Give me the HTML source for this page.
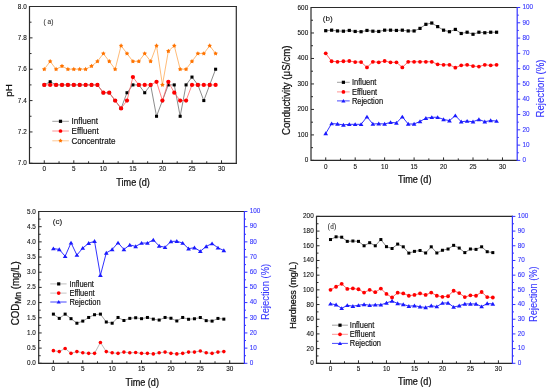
<!DOCTYPE html><html><head><meta charset="utf-8"><title>Figure</title><style>html,body{margin:0;padding:0;background:#fff;}svg{display:block;filter:blur(0.3px);}</style></head><body>
<svg width="550" height="390" viewBox="0 0 550 390">
<rect width="550" height="390" fill="#fff"/>
<path d="M29.5 6.5H236.3M29.5 6.5V163.3H236.3" stroke="#2b2b2b" stroke-width="1.2" fill="none" stroke-linecap="square"/>
<path d="M236.3 6.5V163.3" stroke="#2b2b2b" stroke-width="1.2" fill="none" stroke-linecap="square"/>
<path d="M44.27 163.3v-3" stroke="#2b2b2b" stroke-width="1"/>
<text transform="translate(44.27 171.4) scale(0.84 1)" font-size="7.6" text-anchor="middle" fill="#111" stroke="#111" stroke-width="0.12" font-family='"Liberation Sans", sans-serif' >0</text>
<path d="M73.81 163.3v-3" stroke="#2b2b2b" stroke-width="1"/>
<text transform="translate(73.81 171.4) scale(0.84 1)" font-size="7.6" text-anchor="middle" fill="#111" stroke="#111" stroke-width="0.12" font-family='"Liberation Sans", sans-serif' >5</text>
<path d="M103.36 163.3v-3" stroke="#2b2b2b" stroke-width="1"/>
<text transform="translate(103.36 171.4) scale(0.84 1)" font-size="7.6" text-anchor="middle" fill="#111" stroke="#111" stroke-width="0.12" font-family='"Liberation Sans", sans-serif' >10</text>
<path d="M132.9 163.3v-3" stroke="#2b2b2b" stroke-width="1"/>
<text transform="translate(132.9 171.4) scale(0.84 1)" font-size="7.6" text-anchor="middle" fill="#111" stroke="#111" stroke-width="0.12" font-family='"Liberation Sans", sans-serif' >15</text>
<path d="M162.44 163.3v-3" stroke="#2b2b2b" stroke-width="1"/>
<text transform="translate(162.44 171.4) scale(0.84 1)" font-size="7.6" text-anchor="middle" fill="#111" stroke="#111" stroke-width="0.12" font-family='"Liberation Sans", sans-serif' >20</text>
<path d="M191.99 163.3v-3" stroke="#2b2b2b" stroke-width="1"/>
<text transform="translate(191.99 171.4) scale(0.84 1)" font-size="7.6" text-anchor="middle" fill="#111" stroke="#111" stroke-width="0.12" font-family='"Liberation Sans", sans-serif' >25</text>
<path d="M221.53 163.3v-3" stroke="#2b2b2b" stroke-width="1"/>
<text transform="translate(221.53 171.4) scale(0.84 1)" font-size="7.6" text-anchor="middle" fill="#111" stroke="#111" stroke-width="0.12" font-family='"Liberation Sans", sans-serif' >30</text>
<path d="M59.04 163.3v-2" stroke="#2b2b2b" stroke-width="1"/>
<path d="M88.59 163.3v-2" stroke="#2b2b2b" stroke-width="1"/>
<path d="M118.13 163.3v-2" stroke="#2b2b2b" stroke-width="1"/>
<path d="M147.67 163.3v-2" stroke="#2b2b2b" stroke-width="1"/>
<path d="M177.21 163.3v-2" stroke="#2b2b2b" stroke-width="1"/>
<path d="M206.76 163.3v-2" stroke="#2b2b2b" stroke-width="1"/>
<path d="M29.5 163.3h3" stroke="#2b2b2b" stroke-width="1"/>
<text transform="translate(26.7 165.3) scale(0.84 1)" font-size="7.6" text-anchor="end" fill="#111" stroke="#111" stroke-width="0.12" font-family='"Liberation Sans", sans-serif' >7.0</text>
<path d="M29.5 131.94h3" stroke="#2b2b2b" stroke-width="1"/>
<text transform="translate(26.7 133.94) scale(0.84 1)" font-size="7.6" text-anchor="end" fill="#111" stroke="#111" stroke-width="0.12" font-family='"Liberation Sans", sans-serif' >7.2</text>
<path d="M29.5 100.58h3" stroke="#2b2b2b" stroke-width="1"/>
<text transform="translate(26.7 102.58) scale(0.84 1)" font-size="7.6" text-anchor="end" fill="#111" stroke="#111" stroke-width="0.12" font-family='"Liberation Sans", sans-serif' >7.4</text>
<path d="M29.5 69.22h3" stroke="#2b2b2b" stroke-width="1"/>
<text transform="translate(26.7 71.22) scale(0.84 1)" font-size="7.6" text-anchor="end" fill="#111" stroke="#111" stroke-width="0.12" font-family='"Liberation Sans", sans-serif' >7.6</text>
<path d="M29.5 37.86h3" stroke="#2b2b2b" stroke-width="1"/>
<text transform="translate(26.7 39.86) scale(0.84 1)" font-size="7.6" text-anchor="end" fill="#111" stroke="#111" stroke-width="0.12" font-family='"Liberation Sans", sans-serif' >7.8</text>
<path d="M29.5 6.5h3" stroke="#2b2b2b" stroke-width="1"/>
<text transform="translate(26.7 8.5) scale(0.84 1)" font-size="7.6" text-anchor="end" fill="#111" stroke="#111" stroke-width="0.12" font-family='"Liberation Sans", sans-serif' >8.0</text>
<path d="M29.5 147.62h2" stroke="#2b2b2b" stroke-width="1"/>
<path d="M29.5 116.26h2" stroke="#2b2b2b" stroke-width="1"/>
<path d="M29.5 84.9h2" stroke="#2b2b2b" stroke-width="1"/>
<path d="M29.5 53.54h2" stroke="#2b2b2b" stroke-width="1"/>
<path d="M29.5 22.18h2" stroke="#2b2b2b" stroke-width="1"/>
<path d="M44.27 84.9L50.18 81.76L56.09 84.9L62 84.9L67.91 84.9L73.81 84.9L79.72 84.9L85.63 84.9L91.54 84.9L97.45 84.9L103.36 92.74L109.27 92.74L115.17 100.58L121.08 108.42L126.99 92.74L132.9 84.9L138.81 84.9L144.72 92.74L150.63 84.9L156.53 116.26L162.44 100.58L168.35 84.9L174.26 84.9L180.17 116.26L186.08 84.9L191.99 77.06L197.89 84.9L203.8 100.58L209.71 84.9L215.62 69.22" stroke="#666" stroke-width="0.75" fill="none" opacity="1.0"/>
<rect x="42.75" y="83.38" width="3.05" height="3.05" fill="#000"/>
<rect x="48.66" y="80.24" width="3.05" height="3.05" fill="#000"/>
<rect x="54.56" y="83.38" width="3.05" height="3.05" fill="#000"/>
<rect x="60.47" y="83.38" width="3.05" height="3.05" fill="#000"/>
<rect x="66.38" y="83.38" width="3.05" height="3.05" fill="#000"/>
<rect x="72.29" y="83.38" width="3.05" height="3.05" fill="#000"/>
<rect x="78.2" y="83.38" width="3.05" height="3.05" fill="#000"/>
<rect x="84.11" y="83.38" width="3.05" height="3.05" fill="#000"/>
<rect x="90.01" y="83.38" width="3.05" height="3.05" fill="#000"/>
<rect x="95.92" y="83.38" width="3.05" height="3.05" fill="#000"/>
<rect x="101.83" y="91.21" width="3.05" height="3.05" fill="#000"/>
<rect x="107.74" y="91.21" width="3.05" height="3.05" fill="#000"/>
<rect x="113.65" y="99.05" width="3.05" height="3.05" fill="#000"/>
<rect x="119.56" y="106.9" width="3.05" height="3.05" fill="#000"/>
<rect x="125.47" y="91.21" width="3.05" height="3.05" fill="#000"/>
<rect x="131.38" y="83.38" width="3.05" height="3.05" fill="#000"/>
<rect x="137.28" y="83.38" width="3.05" height="3.05" fill="#000"/>
<rect x="143.19" y="91.21" width="3.05" height="3.05" fill="#000"/>
<rect x="149.1" y="83.38" width="3.05" height="3.05" fill="#000"/>
<rect x="155.01" y="114.74" width="3.05" height="3.05" fill="#000"/>
<rect x="160.92" y="99.05" width="3.05" height="3.05" fill="#000"/>
<rect x="166.83" y="83.38" width="3.05" height="3.05" fill="#000"/>
<rect x="172.73" y="83.38" width="3.05" height="3.05" fill="#000"/>
<rect x="178.64" y="114.74" width="3.05" height="3.05" fill="#000"/>
<rect x="184.55" y="83.38" width="3.05" height="3.05" fill="#000"/>
<rect x="190.46" y="75.54" width="3.05" height="3.05" fill="#000"/>
<rect x="196.37" y="83.38" width="3.05" height="3.05" fill="#000"/>
<rect x="202.28" y="99.05" width="3.05" height="3.05" fill="#000"/>
<rect x="208.19" y="83.38" width="3.05" height="3.05" fill="#000"/>
<rect x="214.09" y="67.7" width="3.05" height="3.05" fill="#000"/>
<path d="M44.27 84.9L50.18 84.9L56.09 84.9L62 84.9L67.91 84.9L73.81 84.9L79.72 84.9L85.63 84.9L91.54 84.9L97.45 84.9L103.36 92.74L109.27 92.74L115.17 100.58L121.08 108.42L126.99 100.58L132.9 77.06L138.81 84.9L144.72 84.9L150.63 84.9L156.53 81.76L162.44 100.58L168.35 81.76L174.26 92.74L180.17 100.58L186.08 100.58L191.99 84.9L197.89 84.9L203.8 84.9L209.71 84.9L215.62 84.9" stroke="#ff5a5a" stroke-width="0.75" fill="none" opacity="1.0"/>
<circle cx="44.27" cy="84.9" r="2.12" fill="#ff0000"/>
<circle cx="50.18" cy="84.9" r="2.12" fill="#ff0000"/>
<circle cx="56.09" cy="84.9" r="2.12" fill="#ff0000"/>
<circle cx="62" cy="84.9" r="2.12" fill="#ff0000"/>
<circle cx="67.91" cy="84.9" r="2.12" fill="#ff0000"/>
<circle cx="73.81" cy="84.9" r="2.12" fill="#ff0000"/>
<circle cx="79.72" cy="84.9" r="2.12" fill="#ff0000"/>
<circle cx="85.63" cy="84.9" r="2.12" fill="#ff0000"/>
<circle cx="91.54" cy="84.9" r="2.12" fill="#ff0000"/>
<circle cx="97.45" cy="84.9" r="2.12" fill="#ff0000"/>
<circle cx="103.36" cy="92.74" r="2.12" fill="#ff0000"/>
<circle cx="109.27" cy="92.74" r="2.12" fill="#ff0000"/>
<circle cx="115.17" cy="100.58" r="2.12" fill="#ff0000"/>
<circle cx="121.08" cy="108.42" r="2.12" fill="#ff0000"/>
<circle cx="126.99" cy="100.58" r="2.12" fill="#ff0000"/>
<circle cx="132.9" cy="77.06" r="2.12" fill="#ff0000"/>
<circle cx="138.81" cy="84.9" r="2.12" fill="#ff0000"/>
<circle cx="144.72" cy="84.9" r="2.12" fill="#ff0000"/>
<circle cx="150.63" cy="84.9" r="2.12" fill="#ff0000"/>
<circle cx="156.53" cy="81.76" r="2.12" fill="#ff0000"/>
<circle cx="162.44" cy="100.58" r="2.12" fill="#ff0000"/>
<circle cx="168.35" cy="81.76" r="2.12" fill="#ff0000"/>
<circle cx="174.26" cy="92.74" r="2.12" fill="#ff0000"/>
<circle cx="180.17" cy="100.58" r="2.12" fill="#ff0000"/>
<circle cx="186.08" cy="100.58" r="2.12" fill="#ff0000"/>
<circle cx="191.99" cy="84.9" r="2.12" fill="#ff0000"/>
<circle cx="197.89" cy="84.9" r="2.12" fill="#ff0000"/>
<circle cx="203.8" cy="84.9" r="2.12" fill="#ff0000"/>
<circle cx="209.71" cy="84.9" r="2.12" fill="#ff0000"/>
<circle cx="215.62" cy="84.9" r="2.12" fill="#ff0000"/>
<path d="M44.27 69.22L50.18 61.38L56.09 69.22L62 66.08L67.91 69.22L73.81 69.22L79.72 69.22L85.63 69.22L91.54 66.08L97.45 61.38L103.36 53.54L109.27 61.38L115.17 69.22L121.08 45.7L126.99 53.54L132.9 61.38L138.81 61.38L144.72 53.54L150.63 61.38L156.53 45.7L162.44 84.9L168.35 51.19L174.26 45.7L180.17 69.22L186.08 69.22L191.99 61.38L197.89 53.54L203.8 53.54L209.71 45.7L215.62 53.54" stroke="#ffaa55" stroke-width="0.8" fill="none" opacity="1.0"/>
<path d="M44.27 66.82L45.05 68.15L46.55 68.48L45.53 69.63L45.68 71.16L44.27 70.54L42.86 71.16L43.02 69.63L41.99 68.48L43.5 68.15Z" fill="#ff7300"/>
<path d="M50.18 58.98L50.96 60.31L52.46 60.64L51.44 61.79L51.59 63.32L50.18 62.7L48.77 63.32L48.92 61.79L47.9 60.64L49.4 60.31Z" fill="#ff7300"/>
<path d="M56.09 66.82L56.86 68.15L58.37 68.48L57.34 69.63L57.5 71.16L56.09 70.54L54.68 71.16L54.83 69.63L53.81 68.48L55.31 68.15Z" fill="#ff7300"/>
<path d="M62 63.68L62.77 65.02L64.28 65.34L63.25 66.49L63.41 68.03L62 67.4L60.59 68.03L60.74 66.49L59.71 65.34L61.22 65.02Z" fill="#ff7300"/>
<path d="M67.91 66.82L68.68 68.15L70.19 68.48L69.16 69.63L69.32 71.16L67.91 70.54L66.5 71.16L66.65 69.63L65.62 68.48L67.13 68.15Z" fill="#ff7300"/>
<path d="M73.81 66.82L74.59 68.15L76.1 68.48L75.07 69.63L75.22 71.16L73.81 70.54L72.4 71.16L72.56 69.63L71.53 68.48L73.04 68.15Z" fill="#ff7300"/>
<path d="M79.72 66.82L80.5 68.15L82.01 68.48L80.98 69.63L81.13 71.16L79.72 70.54L78.31 71.16L78.47 69.63L77.44 68.48L78.95 68.15Z" fill="#ff7300"/>
<path d="M85.63 66.82L86.41 68.15L87.91 68.48L86.89 69.63L87.04 71.16L85.63 70.54L84.22 71.16L84.38 69.63L83.35 68.48L84.86 68.15Z" fill="#ff7300"/>
<path d="M91.54 63.68L92.32 65.02L93.82 65.34L92.8 66.49L92.95 68.03L91.54 67.4L90.13 68.03L90.28 66.49L89.26 65.34L90.76 65.02Z" fill="#ff7300"/>
<path d="M97.45 58.98L98.22 60.31L99.73 60.64L98.7 61.79L98.86 63.32L97.45 62.7L96.04 63.32L96.19 61.79L95.17 60.64L96.67 60.31Z" fill="#ff7300"/>
<path d="M103.36 51.14L104.13 52.47L105.64 52.8L104.61 53.95L104.77 55.48L103.36 54.86L101.95 55.48L102.1 53.95L101.07 52.8L102.58 52.47Z" fill="#ff7300"/>
<path d="M109.27 58.98L110.04 60.31L111.55 60.64L110.52 61.79L110.68 63.32L109.27 62.7L107.86 63.32L108.01 61.79L106.98 60.64L108.49 60.31Z" fill="#ff7300"/>
<path d="M115.17 66.82L115.95 68.15L117.46 68.48L116.43 69.63L116.58 71.16L115.17 70.54L113.76 71.16L113.92 69.63L112.89 68.48L114.4 68.15Z" fill="#ff7300"/>
<path d="M121.08 43.3L121.86 44.63L123.37 44.96L122.34 46.11L122.49 47.64L121.08 47.02L119.67 47.64L119.83 46.11L118.8 44.96L120.31 44.63Z" fill="#ff7300"/>
<path d="M126.99 51.14L127.77 52.47L129.27 52.8L128.25 53.95L128.4 55.48L126.99 54.86L125.58 55.48L125.74 53.95L124.71 52.8L126.22 52.47Z" fill="#ff7300"/>
<path d="M132.9 58.98L133.68 60.31L135.18 60.64L134.16 61.79L134.31 63.32L132.9 62.7L131.49 63.32L131.64 61.79L130.62 60.64L132.12 60.31Z" fill="#ff7300"/>
<path d="M138.81 58.98L139.58 60.31L141.09 60.64L140.06 61.79L140.22 63.32L138.81 62.7L137.4 63.32L137.55 61.79L136.53 60.64L138.03 60.31Z" fill="#ff7300"/>
<path d="M144.72 51.14L145.49 52.47L147 52.8L145.97 53.95L146.13 55.48L144.72 54.86L143.31 55.48L143.46 53.95L142.43 52.8L143.94 52.47Z" fill="#ff7300"/>
<path d="M150.63 58.98L151.4 60.31L152.91 60.64L151.88 61.79L152.04 63.32L150.63 62.7L149.22 63.32L149.37 61.79L148.34 60.64L149.85 60.31Z" fill="#ff7300"/>
<path d="M156.53 43.3L157.31 44.63L158.82 44.96L157.79 46.11L157.94 47.64L156.53 47.02L155.12 47.64L155.28 46.11L154.25 44.96L155.76 44.63Z" fill="#ff7300"/>
<path d="M162.44 82.5L163.22 83.83L164.73 84.16L163.7 85.31L163.85 86.84L162.44 86.22L161.03 86.84L161.19 85.31L160.16 84.16L161.67 83.83Z" fill="#ff7300"/>
<path d="M168.35 48.79L169.13 50.12L170.63 50.45L169.61 51.6L169.76 53.13L168.35 52.51L166.94 53.13L167.1 51.6L166.07 50.45L167.58 50.12Z" fill="#ff7300"/>
<path d="M174.26 43.3L175.04 44.63L176.54 44.96L175.52 46.11L175.67 47.64L174.26 47.02L172.85 47.64L173 46.11L171.98 44.96L173.48 44.63Z" fill="#ff7300"/>
<path d="M180.17 66.82L180.94 68.15L182.45 68.48L181.42 69.63L181.58 71.16L180.17 70.54L178.76 71.16L178.91 69.63L177.89 68.48L179.39 68.15Z" fill="#ff7300"/>
<path d="M186.08 66.82L186.85 68.15L188.36 68.48L187.33 69.63L187.49 71.16L186.08 70.54L184.67 71.16L184.82 69.63L183.79 68.48L185.3 68.15Z" fill="#ff7300"/>
<path d="M191.99 58.98L192.76 60.31L194.27 60.64L193.24 61.79L193.4 63.32L191.99 62.7L190.58 63.32L190.73 61.79L189.7 60.64L191.21 60.31Z" fill="#ff7300"/>
<path d="M197.89 51.14L198.67 52.47L200.18 52.8L199.15 53.95L199.3 55.48L197.89 54.86L196.48 55.48L196.64 53.95L195.61 52.8L197.12 52.47Z" fill="#ff7300"/>
<path d="M203.8 51.14L204.58 52.47L206.09 52.8L205.06 53.95L205.21 55.48L203.8 54.86L202.39 55.48L202.55 53.95L201.52 52.8L203.03 52.47Z" fill="#ff7300"/>
<path d="M209.71 43.3L210.49 44.63L211.99 44.96L210.97 46.11L211.12 47.64L209.71 47.02L208.3 47.64L208.46 46.11L207.43 44.96L208.94 44.63Z" fill="#ff7300"/>
<path d="M215.62 51.14L216.4 52.47L217.9 52.8L216.88 53.95L217.03 55.48L215.62 54.86L214.21 55.48L214.36 53.95L213.34 52.8L214.84 52.47Z" fill="#ff7300"/>
<path d="M52.3 121.3H68.9" stroke="#555" stroke-width="0.8" opacity="0.7"/>
<rect x="58.9" y="119.7" width="3.2" height="3.2" fill="#000"/>
<text transform="translate(71.5 124.12) scale(0.86 1)" font-size="9.4" text-anchor="start" fill="#111" stroke="#111" stroke-width="0.18" font-family='"Liberation Sans", sans-serif' >Influent</text>
<path d="M52.3 131H68.9" stroke="#ff4040" stroke-width="0.8" opacity="0.7"/>
<circle cx="60.5" cy="131" r="1.85" fill="#ff0000"/>
<text transform="translate(71.5 133.82) scale(0.86 1)" font-size="9.4" text-anchor="start" fill="#111" stroke="#111" stroke-width="0.18" font-family='"Liberation Sans", sans-serif' >Effluent</text>
<path d="M52.3 140.8H68.9" stroke="#ffa040" stroke-width="0.8" opacity="0.7"/>
<path d="M60.5 138.6L61.21 139.82L62.59 140.12L61.65 141.17L61.79 142.58L60.5 142.01L59.21 142.58L59.35 141.17L58.41 140.12L59.79 139.82Z" fill="#ff7300"/>
<text transform="translate(71.5 143.62) scale(0.86 1)" font-size="9.4" text-anchor="start" fill="#111" stroke="#111" stroke-width="0.18" font-family='"Liberation Sans", sans-serif' >Concentrate</text>
<text x="48.5" y="23.5" font-size="6.6" text-anchor="middle" fill="#333" stroke="#333" stroke-width="0.1" font-family='"Liberation Sans", sans-serif' >( a)</text>
<text transform="translate(12.4 90.5) rotate(-90) scale(1.0 1)" x="0" y="0" font-size="9.8" text-anchor="middle" fill="#111" stroke="#111" stroke-width="0.25" font-family='"Liberation Sans", sans-serif'>pH</text>
<text transform="translate(133.1 185.8) scale(0.91 1)" font-size="10" text-anchor="middle" fill="#111" stroke="#111" stroke-width="0.25" font-family='"Liberation Sans", sans-serif' >Time (d)</text>
<path d="M311 7.5H517.2M311 7.5V160.4H517.2" stroke="#2b2b2b" stroke-width="1.2" fill="none" stroke-linecap="square"/>
<path d="M517.2 7.5V160.4" stroke="#3535ff" stroke-width="1.2" fill="none" stroke-linecap="square"/>
<path d="M325.73 160.4v-3" stroke="#2b2b2b" stroke-width="1"/>
<text transform="translate(325.73 168.5) scale(0.84 1)" font-size="7.6" text-anchor="middle" fill="#111" stroke="#111" stroke-width="0.12" font-family='"Liberation Sans", sans-serif' >0</text>
<path d="M355.19 160.4v-3" stroke="#2b2b2b" stroke-width="1"/>
<text transform="translate(355.19 168.5) scale(0.84 1)" font-size="7.6" text-anchor="middle" fill="#111" stroke="#111" stroke-width="0.12" font-family='"Liberation Sans", sans-serif' >5</text>
<path d="M384.64 160.4v-3" stroke="#2b2b2b" stroke-width="1"/>
<text transform="translate(384.64 168.5) scale(0.84 1)" font-size="7.6" text-anchor="middle" fill="#111" stroke="#111" stroke-width="0.12" font-family='"Liberation Sans", sans-serif' >10</text>
<path d="M414.1 160.4v-3" stroke="#2b2b2b" stroke-width="1"/>
<text transform="translate(414.1 168.5) scale(0.84 1)" font-size="7.6" text-anchor="middle" fill="#111" stroke="#111" stroke-width="0.12" font-family='"Liberation Sans", sans-serif' >15</text>
<path d="M443.56 160.4v-3" stroke="#2b2b2b" stroke-width="1"/>
<text transform="translate(443.56 168.5) scale(0.84 1)" font-size="7.6" text-anchor="middle" fill="#111" stroke="#111" stroke-width="0.12" font-family='"Liberation Sans", sans-serif' >20</text>
<path d="M473.01 160.4v-3" stroke="#2b2b2b" stroke-width="1"/>
<text transform="translate(473.01 168.5) scale(0.84 1)" font-size="7.6" text-anchor="middle" fill="#111" stroke="#111" stroke-width="0.12" font-family='"Liberation Sans", sans-serif' >25</text>
<path d="M502.47 160.4v-3" stroke="#2b2b2b" stroke-width="1"/>
<text transform="translate(502.47 168.5) scale(0.84 1)" font-size="7.6" text-anchor="middle" fill="#111" stroke="#111" stroke-width="0.12" font-family='"Liberation Sans", sans-serif' >30</text>
<path d="M340.46 160.4v-2" stroke="#2b2b2b" stroke-width="1"/>
<path d="M369.91 160.4v-2" stroke="#2b2b2b" stroke-width="1"/>
<path d="M399.37 160.4v-2" stroke="#2b2b2b" stroke-width="1"/>
<path d="M428.83 160.4v-2" stroke="#2b2b2b" stroke-width="1"/>
<path d="M458.29 160.4v-2" stroke="#2b2b2b" stroke-width="1"/>
<path d="M487.74 160.4v-2" stroke="#2b2b2b" stroke-width="1"/>
<path d="M311 160.4h3" stroke="#2b2b2b" stroke-width="1"/>
<text transform="translate(308.2 162.4) scale(0.84 1)" font-size="7.6" text-anchor="end" fill="#111" stroke="#111" stroke-width="0.12" font-family='"Liberation Sans", sans-serif' >0</text>
<path d="M311 134.92h3" stroke="#2b2b2b" stroke-width="1"/>
<text transform="translate(308.2 136.92) scale(0.84 1)" font-size="7.6" text-anchor="end" fill="#111" stroke="#111" stroke-width="0.12" font-family='"Liberation Sans", sans-serif' >100</text>
<path d="M311 109.43h3" stroke="#2b2b2b" stroke-width="1"/>
<text transform="translate(308.2 111.43) scale(0.84 1)" font-size="7.6" text-anchor="end" fill="#111" stroke="#111" stroke-width="0.12" font-family='"Liberation Sans", sans-serif' >200</text>
<path d="M311 83.95h3" stroke="#2b2b2b" stroke-width="1"/>
<text transform="translate(308.2 85.95) scale(0.84 1)" font-size="7.6" text-anchor="end" fill="#111" stroke="#111" stroke-width="0.12" font-family='"Liberation Sans", sans-serif' >300</text>
<path d="M311 58.47h3" stroke="#2b2b2b" stroke-width="1"/>
<text transform="translate(308.2 60.47) scale(0.84 1)" font-size="7.6" text-anchor="end" fill="#111" stroke="#111" stroke-width="0.12" font-family='"Liberation Sans", sans-serif' >400</text>
<path d="M311 32.98h3" stroke="#2b2b2b" stroke-width="1"/>
<text transform="translate(308.2 34.98) scale(0.84 1)" font-size="7.6" text-anchor="end" fill="#111" stroke="#111" stroke-width="0.12" font-family='"Liberation Sans", sans-serif' >500</text>
<path d="M311 7.5h3" stroke="#2b2b2b" stroke-width="1"/>
<text transform="translate(308.2 9.5) scale(0.84 1)" font-size="7.6" text-anchor="end" fill="#111" stroke="#111" stroke-width="0.12" font-family='"Liberation Sans", sans-serif' >600</text>
<path d="M311 147.66h2" stroke="#2b2b2b" stroke-width="1"/>
<path d="M311 122.18h2" stroke="#2b2b2b" stroke-width="1"/>
<path d="M311 96.69h2" stroke="#2b2b2b" stroke-width="1"/>
<path d="M311 71.21h2" stroke="#2b2b2b" stroke-width="1"/>
<path d="M311 45.72h2" stroke="#2b2b2b" stroke-width="1"/>
<path d="M311 20.24h2" stroke="#2b2b2b" stroke-width="1"/>
<path d="M517.2 160.4h3" stroke="#3535ff" stroke-width="1"/>
<text transform="translate(522.5 162.2) scale(0.84 1)" font-size="7.6" text-anchor="start" fill="#3535ff" stroke="#3535ff" stroke-width="0.12" font-family='"Liberation Sans", sans-serif' >0</text>
<path d="M517.2 145.11h3" stroke="#3535ff" stroke-width="1"/>
<text transform="translate(522.5 146.91) scale(0.84 1)" font-size="7.6" text-anchor="start" fill="#3535ff" stroke="#3535ff" stroke-width="0.12" font-family='"Liberation Sans", sans-serif' >10</text>
<path d="M517.2 129.82h3" stroke="#3535ff" stroke-width="1"/>
<text transform="translate(522.5 131.62) scale(0.84 1)" font-size="7.6" text-anchor="start" fill="#3535ff" stroke="#3535ff" stroke-width="0.12" font-family='"Liberation Sans", sans-serif' >20</text>
<path d="M517.2 114.53h3" stroke="#3535ff" stroke-width="1"/>
<text transform="translate(522.5 116.33) scale(0.84 1)" font-size="7.6" text-anchor="start" fill="#3535ff" stroke="#3535ff" stroke-width="0.12" font-family='"Liberation Sans", sans-serif' >30</text>
<path d="M517.2 99.24h3" stroke="#3535ff" stroke-width="1"/>
<text transform="translate(522.5 101.04) scale(0.84 1)" font-size="7.6" text-anchor="start" fill="#3535ff" stroke="#3535ff" stroke-width="0.12" font-family='"Liberation Sans", sans-serif' >40</text>
<path d="M517.2 83.95h3" stroke="#3535ff" stroke-width="1"/>
<text transform="translate(522.5 85.75) scale(0.84 1)" font-size="7.6" text-anchor="start" fill="#3535ff" stroke="#3535ff" stroke-width="0.12" font-family='"Liberation Sans", sans-serif' >50</text>
<path d="M517.2 68.66h3" stroke="#3535ff" stroke-width="1"/>
<text transform="translate(522.5 70.46) scale(0.84 1)" font-size="7.6" text-anchor="start" fill="#3535ff" stroke="#3535ff" stroke-width="0.12" font-family='"Liberation Sans", sans-serif' >60</text>
<path d="M517.2 53.37h3" stroke="#3535ff" stroke-width="1"/>
<text transform="translate(522.5 55.17) scale(0.84 1)" font-size="7.6" text-anchor="start" fill="#3535ff" stroke="#3535ff" stroke-width="0.12" font-family='"Liberation Sans", sans-serif' >70</text>
<path d="M517.2 38.08h3" stroke="#3535ff" stroke-width="1"/>
<text transform="translate(522.5 39.88) scale(0.84 1)" font-size="7.6" text-anchor="start" fill="#3535ff" stroke="#3535ff" stroke-width="0.12" font-family='"Liberation Sans", sans-serif' >80</text>
<path d="M517.2 22.79h3" stroke="#3535ff" stroke-width="1"/>
<text transform="translate(522.5 24.59) scale(0.84 1)" font-size="7.6" text-anchor="start" fill="#3535ff" stroke="#3535ff" stroke-width="0.12" font-family='"Liberation Sans", sans-serif' >90</text>
<path d="M517.2 7.5h3" stroke="#3535ff" stroke-width="1"/>
<text transform="translate(522.5 9.3) scale(0.84 1)" font-size="7.6" text-anchor="start" fill="#3535ff" stroke="#3535ff" stroke-width="0.12" font-family='"Liberation Sans", sans-serif' >100</text>
<path d="M517.2 152.75h1.6" stroke="#3535ff" stroke-width="1"/>
<path d="M517.2 137.47h1.6" stroke="#3535ff" stroke-width="1"/>
<path d="M517.2 122.18h1.6" stroke="#3535ff" stroke-width="1"/>
<path d="M517.2 106.89h1.6" stroke="#3535ff" stroke-width="1"/>
<path d="M517.2 91.59h1.6" stroke="#3535ff" stroke-width="1"/>
<path d="M517.2 76.3h1.6" stroke="#3535ff" stroke-width="1"/>
<path d="M517.2 61.02h1.6" stroke="#3535ff" stroke-width="1"/>
<path d="M517.2 45.72h1.6" stroke="#3535ff" stroke-width="1"/>
<path d="M517.2 30.44h1.6" stroke="#3535ff" stroke-width="1"/>
<path d="M517.2 15.15h1.6" stroke="#3535ff" stroke-width="1"/>
<path d="M325.73 30.69L331.62 30.18L337.51 30.94L343.4 31.2L349.29 30.44L355.19 31.45L361.08 31.71L366.97 30.44L372.86 31.2L378.75 31.45L384.64 30.18L390.53 30.18L396.43 30.44L402.32 30.18L408.21 30.94L414.1 30.94L419.99 28.4L425.88 24.32L431.77 23.04L437.67 26.61L443.56 30.18L449.45 31.71L455.34 29.42L461.23 33.49L467.12 32.22L473.01 34.26L478.91 32.22L484.8 32.73L490.69 32.22L496.58 32.22" stroke="#555" stroke-width="0.7" fill="none" opacity="1.0"/>
<rect x="324.13" y="29.09" width="3.2" height="3.2" fill="#000"/>
<rect x="330.02" y="28.58" width="3.2" height="3.2" fill="#000"/>
<rect x="335.91" y="29.34" width="3.2" height="3.2" fill="#000"/>
<rect x="341.8" y="29.6" width="3.2" height="3.2" fill="#000"/>
<rect x="347.69" y="28.84" width="3.2" height="3.2" fill="#000"/>
<rect x="353.59" y="29.85" width="3.2" height="3.2" fill="#000"/>
<rect x="359.48" y="30.11" width="3.2" height="3.2" fill="#000"/>
<rect x="365.37" y="28.84" width="3.2" height="3.2" fill="#000"/>
<rect x="371.26" y="29.6" width="3.2" height="3.2" fill="#000"/>
<rect x="377.15" y="29.85" width="3.2" height="3.2" fill="#000"/>
<rect x="383.04" y="28.58" width="3.2" height="3.2" fill="#000"/>
<rect x="388.93" y="28.58" width="3.2" height="3.2" fill="#000"/>
<rect x="394.83" y="28.84" width="3.2" height="3.2" fill="#000"/>
<rect x="400.72" y="28.58" width="3.2" height="3.2" fill="#000"/>
<rect x="406.61" y="29.34" width="3.2" height="3.2" fill="#000"/>
<rect x="412.5" y="29.34" width="3.2" height="3.2" fill="#000"/>
<rect x="418.39" y="26.8" width="3.2" height="3.2" fill="#000"/>
<rect x="424.28" y="22.72" width="3.2" height="3.2" fill="#000"/>
<rect x="430.17" y="21.44" width="3.2" height="3.2" fill="#000"/>
<rect x="436.07" y="25.01" width="3.2" height="3.2" fill="#000"/>
<rect x="441.96" y="28.58" width="3.2" height="3.2" fill="#000"/>
<rect x="447.85" y="30.11" width="3.2" height="3.2" fill="#000"/>
<rect x="453.74" y="27.82" width="3.2" height="3.2" fill="#000"/>
<rect x="459.63" y="31.89" width="3.2" height="3.2" fill="#000"/>
<rect x="465.52" y="30.62" width="3.2" height="3.2" fill="#000"/>
<rect x="471.41" y="32.66" width="3.2" height="3.2" fill="#000"/>
<rect x="477.31" y="30.62" width="3.2" height="3.2" fill="#000"/>
<rect x="483.2" y="31.13" width="3.2" height="3.2" fill="#000"/>
<rect x="489.09" y="30.62" width="3.2" height="3.2" fill="#000"/>
<rect x="494.98" y="30.62" width="3.2" height="3.2" fill="#000"/>
<path d="M325.73 53.37L331.62 61.27L337.51 61.78L343.4 61.27L349.29 61.02L355.19 62.03L361.08 62.03L366.97 67.39L372.86 61.78L378.75 62.29L384.64 61.02L390.53 62.29L396.43 62.29L402.32 67.39L408.21 61.78L414.1 61.78L419.99 61.78L425.88 61.78L431.77 61.78L437.67 64.33L443.56 64.84L449.45 64.84L455.34 67.64L461.23 65.35L467.12 64.84L473.01 66.11L478.91 66.62L484.8 64.84L490.69 65.35L496.58 64.84" stroke="#ff4040" stroke-width="0.8" fill="none" opacity="1.0"/>
<circle cx="325.73" cy="53.37" r="1.9" fill="#ff0000"/>
<circle cx="331.62" cy="61.27" r="1.9" fill="#ff0000"/>
<circle cx="337.51" cy="61.78" r="1.9" fill="#ff0000"/>
<circle cx="343.4" cy="61.27" r="1.9" fill="#ff0000"/>
<circle cx="349.29" cy="61.02" r="1.9" fill="#ff0000"/>
<circle cx="355.19" cy="62.03" r="1.9" fill="#ff0000"/>
<circle cx="361.08" cy="62.03" r="1.9" fill="#ff0000"/>
<circle cx="366.97" cy="67.39" r="1.9" fill="#ff0000"/>
<circle cx="372.86" cy="61.78" r="1.9" fill="#ff0000"/>
<circle cx="378.75" cy="62.29" r="1.9" fill="#ff0000"/>
<circle cx="384.64" cy="61.02" r="1.9" fill="#ff0000"/>
<circle cx="390.53" cy="62.29" r="1.9" fill="#ff0000"/>
<circle cx="396.43" cy="62.29" r="1.9" fill="#ff0000"/>
<circle cx="402.32" cy="67.39" r="1.9" fill="#ff0000"/>
<circle cx="408.21" cy="61.78" r="1.9" fill="#ff0000"/>
<circle cx="414.1" cy="61.78" r="1.9" fill="#ff0000"/>
<circle cx="419.99" cy="61.78" r="1.9" fill="#ff0000"/>
<circle cx="425.88" cy="61.78" r="1.9" fill="#ff0000"/>
<circle cx="431.77" cy="61.78" r="1.9" fill="#ff0000"/>
<circle cx="437.67" cy="64.33" r="1.9" fill="#ff0000"/>
<circle cx="443.56" cy="64.84" r="1.9" fill="#ff0000"/>
<circle cx="449.45" cy="64.84" r="1.9" fill="#ff0000"/>
<circle cx="455.34" cy="67.64" r="1.9" fill="#ff0000"/>
<circle cx="461.23" cy="65.35" r="1.9" fill="#ff0000"/>
<circle cx="467.12" cy="64.84" r="1.9" fill="#ff0000"/>
<circle cx="473.01" cy="66.11" r="1.9" fill="#ff0000"/>
<circle cx="478.91" cy="66.62" r="1.9" fill="#ff0000"/>
<circle cx="484.8" cy="64.84" r="1.9" fill="#ff0000"/>
<circle cx="490.69" cy="65.35" r="1.9" fill="#ff0000"/>
<circle cx="496.58" cy="64.84" r="1.9" fill="#ff0000"/>
<path d="M325.73 133.49L331.62 123.55L337.51 124.01L343.4 124.93L349.29 124.32L355.19 124.32L361.08 124.32L366.97 116.82L372.86 124.01L378.75 123.7L384.64 124.01L390.53 122.33L396.43 122.94L402.32 116.82L408.21 124.01L414.1 124.01L419.99 121.41L425.88 118.2L431.77 117.28L437.67 117.28L443.56 119.42L449.45 120.65L455.34 115.6L461.23 121.72L467.12 121.1L473.01 121.72L478.91 119.42L484.8 121.72L490.69 120.49L496.58 121.1" stroke="#1a1aff" stroke-width="0.9" fill="none" opacity="1.0"/>
<path d="M325.73 131.34L328.08 135.24L323.38 135.24Z" fill="#1a1aff"/>
<path d="M331.62 121.41L333.97 125.31L329.27 125.31Z" fill="#1a1aff"/>
<path d="M337.51 121.86L339.86 125.76L335.16 125.76Z" fill="#1a1aff"/>
<path d="M343.4 122.78L345.75 126.68L341.05 126.68Z" fill="#1a1aff"/>
<path d="M349.29 122.17L351.64 126.07L346.94 126.07Z" fill="#1a1aff"/>
<path d="M355.19 122.17L357.54 126.07L352.84 126.07Z" fill="#1a1aff"/>
<path d="M361.08 122.17L363.43 126.07L358.73 126.07Z" fill="#1a1aff"/>
<path d="M366.97 114.68L369.32 118.58L364.62 118.58Z" fill="#1a1aff"/>
<path d="M372.86 121.86L375.21 125.76L370.51 125.76Z" fill="#1a1aff"/>
<path d="M378.75 121.56L381.1 125.46L376.4 125.46Z" fill="#1a1aff"/>
<path d="M384.64 121.86L386.99 125.76L382.29 125.76Z" fill="#1a1aff"/>
<path d="M390.53 120.18L392.88 124.08L388.18 124.08Z" fill="#1a1aff"/>
<path d="M396.43 120.79L398.78 124.69L394.08 124.69Z" fill="#1a1aff"/>
<path d="M402.32 114.68L404.67 118.58L399.97 118.58Z" fill="#1a1aff"/>
<path d="M408.21 121.86L410.56 125.76L405.86 125.76Z" fill="#1a1aff"/>
<path d="M414.1 121.86L416.45 125.76L411.75 125.76Z" fill="#1a1aff"/>
<path d="M419.99 119.27L422.34 123.17L417.64 123.17Z" fill="#1a1aff"/>
<path d="M425.88 116.05L428.23 119.95L423.53 119.95Z" fill="#1a1aff"/>
<path d="M431.77 115.14L434.12 119.04L429.42 119.04Z" fill="#1a1aff"/>
<path d="M437.67 115.14L440.02 119.04L435.32 119.04Z" fill="#1a1aff"/>
<path d="M443.56 117.28L445.91 121.18L441.21 121.18Z" fill="#1a1aff"/>
<path d="M449.45 118.5L451.8 122.4L447.1 122.4Z" fill="#1a1aff"/>
<path d="M455.34 113.46L457.69 117.36L452.99 117.36Z" fill="#1a1aff"/>
<path d="M461.23 119.57L463.58 123.47L458.88 123.47Z" fill="#1a1aff"/>
<path d="M467.12 118.96L469.47 122.86L464.77 122.86Z" fill="#1a1aff"/>
<path d="M473.01 119.57L475.36 123.47L470.66 123.47Z" fill="#1a1aff"/>
<path d="M478.91 117.28L481.26 121.18L476.56 121.18Z" fill="#1a1aff"/>
<path d="M484.8 119.57L487.15 123.47L482.45 123.47Z" fill="#1a1aff"/>
<path d="M490.69 118.35L493.04 122.25L488.34 122.25Z" fill="#1a1aff"/>
<path d="M496.58 118.96L498.93 122.86L494.23 122.86Z" fill="#1a1aff"/>
<path d="M337 82.3H349.7" stroke="#555" stroke-width="0.8" opacity="0.7"/>
<rect x="341.8" y="80.7" width="3.2" height="3.2" fill="#000"/>
<text transform="translate(351.9 84.91) scale(0.86 1)" font-size="8.7" text-anchor="start" fill="#111" stroke="#111" stroke-width="0.18" font-family='"Liberation Sans", sans-serif' >Influent</text>
<path d="M337 91.9H349.7" stroke="#ff4040" stroke-width="0.8" opacity="0.7"/>
<circle cx="343.4" cy="91.9" r="1.85" fill="#ff0000"/>
<text transform="translate(351.9 94.51) scale(0.86 1)" font-size="8.7" text-anchor="start" fill="#111" stroke="#111" stroke-width="0.18" font-family='"Liberation Sans", sans-serif' >Effluent</text>
<path d="M337 100.9H349.7" stroke="#1a1aff" stroke-width="0.8" opacity="1.0"/>
<path d="M343.4 98.92L345.5 102.52L341.3 102.52Z" fill="#1a1aff"/>
<text transform="translate(351.9 103.51) scale(0.86 1)" font-size="8.7" text-anchor="start" fill="#111" stroke="#111" stroke-width="0.18" font-family='"Liberation Sans", sans-serif' >Rejection</text>
<text x="327.8" y="21.2" font-size="8.1" text-anchor="middle" fill="#111" stroke="#111" stroke-width="0.1" font-family='"Liberation Sans", sans-serif' >(b)</text>
<text transform="translate(290.1 90.3) rotate(-90) scale(0.95 1)" x="0" y="0" font-size="10.2" text-anchor="middle" fill="#111" stroke="#111" stroke-width="0.25" font-family='"Liberation Sans", sans-serif'>Conductivity (&#956;S/cm)</text>
<text transform="translate(543.5 88.5) rotate(-90) scale(0.93 1)" x="0" y="0" font-size="10.4" text-anchor="middle" fill="#3535ff" stroke="#3535ff" stroke-width="0.12" font-family='"Liberation Sans", sans-serif'>Rejection (%)</text>
<text transform="translate(414.7 183.4) scale(0.91 1)" font-size="10" text-anchor="middle" fill="#111" stroke="#111" stroke-width="0.25" font-family='"Liberation Sans", sans-serif' >Time (d)</text>
<path d="M38.7 211.5H244.4M38.7 211.5V363.3H244.4" stroke="#2b2b2b" stroke-width="1.2" fill="none" stroke-linecap="square"/>
<path d="M244.4 211.5V363.3" stroke="#3535ff" stroke-width="1.2" fill="none" stroke-linecap="square"/>
<path d="M53.39 363.3v-3" stroke="#2b2b2b" stroke-width="1"/>
<text transform="translate(53.39 371.4) scale(0.84 1)" font-size="7.6" text-anchor="middle" fill="#111" stroke="#111" stroke-width="0.12" font-family='"Liberation Sans", sans-serif' >0</text>
<path d="M82.78 363.3v-3" stroke="#2b2b2b" stroke-width="1"/>
<text transform="translate(82.78 371.4) scale(0.84 1)" font-size="7.6" text-anchor="middle" fill="#111" stroke="#111" stroke-width="0.12" font-family='"Liberation Sans", sans-serif' >5</text>
<path d="M112.16 363.3v-3" stroke="#2b2b2b" stroke-width="1"/>
<text transform="translate(112.16 371.4) scale(0.84 1)" font-size="7.6" text-anchor="middle" fill="#111" stroke="#111" stroke-width="0.12" font-family='"Liberation Sans", sans-serif' >10</text>
<path d="M141.55 363.3v-3" stroke="#2b2b2b" stroke-width="1"/>
<text transform="translate(141.55 371.4) scale(0.84 1)" font-size="7.6" text-anchor="middle" fill="#111" stroke="#111" stroke-width="0.12" font-family='"Liberation Sans", sans-serif' >15</text>
<path d="M170.94 363.3v-3" stroke="#2b2b2b" stroke-width="1"/>
<text transform="translate(170.94 371.4) scale(0.84 1)" font-size="7.6" text-anchor="middle" fill="#111" stroke="#111" stroke-width="0.12" font-family='"Liberation Sans", sans-serif' >20</text>
<path d="M200.32 363.3v-3" stroke="#2b2b2b" stroke-width="1"/>
<text transform="translate(200.32 371.4) scale(0.84 1)" font-size="7.6" text-anchor="middle" fill="#111" stroke="#111" stroke-width="0.12" font-family='"Liberation Sans", sans-serif' >25</text>
<path d="M229.71 363.3v-3" stroke="#2b2b2b" stroke-width="1"/>
<text transform="translate(229.71 371.4) scale(0.84 1)" font-size="7.6" text-anchor="middle" fill="#111" stroke="#111" stroke-width="0.12" font-family='"Liberation Sans", sans-serif' >30</text>
<path d="M68.09 363.3v-2" stroke="#2b2b2b" stroke-width="1"/>
<path d="M97.47 363.3v-2" stroke="#2b2b2b" stroke-width="1"/>
<path d="M126.86 363.3v-2" stroke="#2b2b2b" stroke-width="1"/>
<path d="M156.24 363.3v-2" stroke="#2b2b2b" stroke-width="1"/>
<path d="M185.63 363.3v-2" stroke="#2b2b2b" stroke-width="1"/>
<path d="M215.01 363.3v-2" stroke="#2b2b2b" stroke-width="1"/>
<path d="M38.7 363.3h3" stroke="#2b2b2b" stroke-width="1"/>
<text transform="translate(35.9 365.3) scale(0.84 1)" font-size="7.6" text-anchor="end" fill="#111" stroke="#111" stroke-width="0.12" font-family='"Liberation Sans", sans-serif' >0.0</text>
<path d="M38.7 348.12h3" stroke="#2b2b2b" stroke-width="1"/>
<text transform="translate(35.9 350.12) scale(0.84 1)" font-size="7.6" text-anchor="end" fill="#111" stroke="#111" stroke-width="0.12" font-family='"Liberation Sans", sans-serif' >0.5</text>
<path d="M38.7 332.94h3" stroke="#2b2b2b" stroke-width="1"/>
<text transform="translate(35.9 334.94) scale(0.84 1)" font-size="7.6" text-anchor="end" fill="#111" stroke="#111" stroke-width="0.12" font-family='"Liberation Sans", sans-serif' >1.0</text>
<path d="M38.7 317.76h3" stroke="#2b2b2b" stroke-width="1"/>
<text transform="translate(35.9 319.76) scale(0.84 1)" font-size="7.6" text-anchor="end" fill="#111" stroke="#111" stroke-width="0.12" font-family='"Liberation Sans", sans-serif' >1.5</text>
<path d="M38.7 302.58h3" stroke="#2b2b2b" stroke-width="1"/>
<text transform="translate(35.9 304.58) scale(0.84 1)" font-size="7.6" text-anchor="end" fill="#111" stroke="#111" stroke-width="0.12" font-family='"Liberation Sans", sans-serif' >2.0</text>
<path d="M38.7 287.4h3" stroke="#2b2b2b" stroke-width="1"/>
<text transform="translate(35.9 289.4) scale(0.84 1)" font-size="7.6" text-anchor="end" fill="#111" stroke="#111" stroke-width="0.12" font-family='"Liberation Sans", sans-serif' >2.5</text>
<path d="M38.7 272.22h3" stroke="#2b2b2b" stroke-width="1"/>
<text transform="translate(35.9 274.22) scale(0.84 1)" font-size="7.6" text-anchor="end" fill="#111" stroke="#111" stroke-width="0.12" font-family='"Liberation Sans", sans-serif' >3.0</text>
<path d="M38.7 257.04h3" stroke="#2b2b2b" stroke-width="1"/>
<text transform="translate(35.9 259.04) scale(0.84 1)" font-size="7.6" text-anchor="end" fill="#111" stroke="#111" stroke-width="0.12" font-family='"Liberation Sans", sans-serif' >3.5</text>
<path d="M38.7 241.86h3" stroke="#2b2b2b" stroke-width="1"/>
<text transform="translate(35.9 243.86) scale(0.84 1)" font-size="7.6" text-anchor="end" fill="#111" stroke="#111" stroke-width="0.12" font-family='"Liberation Sans", sans-serif' >4.0</text>
<path d="M38.7 226.68h3" stroke="#2b2b2b" stroke-width="1"/>
<text transform="translate(35.9 228.68) scale(0.84 1)" font-size="7.6" text-anchor="end" fill="#111" stroke="#111" stroke-width="0.12" font-family='"Liberation Sans", sans-serif' >4.5</text>
<path d="M38.7 211.5h3" stroke="#2b2b2b" stroke-width="1"/>
<text transform="translate(35.9 213.5) scale(0.84 1)" font-size="7.6" text-anchor="end" fill="#111" stroke="#111" stroke-width="0.12" font-family='"Liberation Sans", sans-serif' >5.0</text>
<path d="M38.7 355.71h2" stroke="#2b2b2b" stroke-width="1"/>
<path d="M38.7 340.53h2" stroke="#2b2b2b" stroke-width="1"/>
<path d="M38.7 325.35h2" stroke="#2b2b2b" stroke-width="1"/>
<path d="M38.7 310.17h2" stroke="#2b2b2b" stroke-width="1"/>
<path d="M38.7 294.99h2" stroke="#2b2b2b" stroke-width="1"/>
<path d="M38.7 279.81h2" stroke="#2b2b2b" stroke-width="1"/>
<path d="M38.7 264.63h2" stroke="#2b2b2b" stroke-width="1"/>
<path d="M38.7 249.45h2" stroke="#2b2b2b" stroke-width="1"/>
<path d="M38.7 234.27h2" stroke="#2b2b2b" stroke-width="1"/>
<path d="M38.7 219.09h2" stroke="#2b2b2b" stroke-width="1"/>
<path d="M244.4 363.3h3" stroke="#3535ff" stroke-width="1"/>
<text transform="translate(249.7 365.1) scale(0.84 1)" font-size="7.6" text-anchor="start" fill="#3535ff" stroke="#3535ff" stroke-width="0.12" font-family='"Liberation Sans", sans-serif' >0</text>
<path d="M244.4 348.12h3" stroke="#3535ff" stroke-width="1"/>
<text transform="translate(249.7 349.92) scale(0.84 1)" font-size="7.6" text-anchor="start" fill="#3535ff" stroke="#3535ff" stroke-width="0.12" font-family='"Liberation Sans", sans-serif' >10</text>
<path d="M244.4 332.94h3" stroke="#3535ff" stroke-width="1"/>
<text transform="translate(249.7 334.74) scale(0.84 1)" font-size="7.6" text-anchor="start" fill="#3535ff" stroke="#3535ff" stroke-width="0.12" font-family='"Liberation Sans", sans-serif' >20</text>
<path d="M244.4 317.76h3" stroke="#3535ff" stroke-width="1"/>
<text transform="translate(249.7 319.56) scale(0.84 1)" font-size="7.6" text-anchor="start" fill="#3535ff" stroke="#3535ff" stroke-width="0.12" font-family='"Liberation Sans", sans-serif' >30</text>
<path d="M244.4 302.58h3" stroke="#3535ff" stroke-width="1"/>
<text transform="translate(249.7 304.38) scale(0.84 1)" font-size="7.6" text-anchor="start" fill="#3535ff" stroke="#3535ff" stroke-width="0.12" font-family='"Liberation Sans", sans-serif' >40</text>
<path d="M244.4 287.4h3" stroke="#3535ff" stroke-width="1"/>
<text transform="translate(249.7 289.2) scale(0.84 1)" font-size="7.6" text-anchor="start" fill="#3535ff" stroke="#3535ff" stroke-width="0.12" font-family='"Liberation Sans", sans-serif' >50</text>
<path d="M244.4 272.22h3" stroke="#3535ff" stroke-width="1"/>
<text transform="translate(249.7 274.02) scale(0.84 1)" font-size="7.6" text-anchor="start" fill="#3535ff" stroke="#3535ff" stroke-width="0.12" font-family='"Liberation Sans", sans-serif' >60</text>
<path d="M244.4 257.04h3" stroke="#3535ff" stroke-width="1"/>
<text transform="translate(249.7 258.84) scale(0.84 1)" font-size="7.6" text-anchor="start" fill="#3535ff" stroke="#3535ff" stroke-width="0.12" font-family='"Liberation Sans", sans-serif' >70</text>
<path d="M244.4 241.86h3" stroke="#3535ff" stroke-width="1"/>
<text transform="translate(249.7 243.66) scale(0.84 1)" font-size="7.6" text-anchor="start" fill="#3535ff" stroke="#3535ff" stroke-width="0.12" font-family='"Liberation Sans", sans-serif' >80</text>
<path d="M244.4 226.68h3" stroke="#3535ff" stroke-width="1"/>
<text transform="translate(249.7 228.48) scale(0.84 1)" font-size="7.6" text-anchor="start" fill="#3535ff" stroke="#3535ff" stroke-width="0.12" font-family='"Liberation Sans", sans-serif' >90</text>
<path d="M244.4 211.5h3" stroke="#3535ff" stroke-width="1"/>
<text transform="translate(249.7 213.3) scale(0.84 1)" font-size="7.6" text-anchor="start" fill="#3535ff" stroke="#3535ff" stroke-width="0.12" font-family='"Liberation Sans", sans-serif' >100</text>
<path d="M244.4 355.71h1.6" stroke="#3535ff" stroke-width="1"/>
<path d="M244.4 340.53h1.6" stroke="#3535ff" stroke-width="1"/>
<path d="M244.4 325.35h1.6" stroke="#3535ff" stroke-width="1"/>
<path d="M244.4 310.17h1.6" stroke="#3535ff" stroke-width="1"/>
<path d="M244.4 294.99h1.6" stroke="#3535ff" stroke-width="1"/>
<path d="M244.4 279.81h1.6" stroke="#3535ff" stroke-width="1"/>
<path d="M244.4 264.63h1.6" stroke="#3535ff" stroke-width="1"/>
<path d="M244.4 249.45h1.6" stroke="#3535ff" stroke-width="1"/>
<path d="M244.4 234.27h1.6" stroke="#3535ff" stroke-width="1"/>
<path d="M244.4 219.09h1.6" stroke="#3535ff" stroke-width="1"/>
<path d="M53.39 314.12L59.27 318.37L65.15 314.12L71.02 318.67L76.9 323.22L82.78 321.1L88.66 317.46L94.53 314.72L100.41 314.12L106.29 322.01L112.16 323.22L118.04 317.46L123.92 320.49L129.8 318.37L135.67 317.76L141.55 318.67L147.43 317.46L153.3 319.13L159.18 320.04L165.06 317.46L170.94 318.25L176.81 320.95L182.69 317.46L188.57 319.28L194.44 318.76L200.32 317.52L206.2 320.64L212.08 321.1L217.95 318.43L223.83 319.13" stroke="#777" stroke-width="0.7" fill="none" opacity="1.0"/>
<rect x="51.89" y="312.62" width="3" height="3" fill="#000"/>
<rect x="57.77" y="316.87" width="3" height="3" fill="#000"/>
<rect x="63.65" y="312.62" width="3" height="3" fill="#000"/>
<rect x="69.52" y="317.17" width="3" height="3" fill="#000"/>
<rect x="75.4" y="321.72" width="3" height="3" fill="#000"/>
<rect x="81.28" y="319.6" width="3" height="3" fill="#000"/>
<rect x="87.16" y="315.96" width="3" height="3" fill="#000"/>
<rect x="93.03" y="313.22" width="3" height="3" fill="#000"/>
<rect x="98.91" y="312.62" width="3" height="3" fill="#000"/>
<rect x="104.79" y="320.51" width="3" height="3" fill="#000"/>
<rect x="110.66" y="321.72" width="3" height="3" fill="#000"/>
<rect x="116.54" y="315.96" width="3" height="3" fill="#000"/>
<rect x="122.42" y="318.99" width="3" height="3" fill="#000"/>
<rect x="128.3" y="316.87" width="3" height="3" fill="#000"/>
<rect x="134.17" y="316.26" width="3" height="3" fill="#000"/>
<rect x="140.05" y="317.17" width="3" height="3" fill="#000"/>
<rect x="145.93" y="315.96" width="3" height="3" fill="#000"/>
<rect x="151.8" y="317.63" width="3" height="3" fill="#000"/>
<rect x="157.68" y="318.54" width="3" height="3" fill="#000"/>
<rect x="163.56" y="315.96" width="3" height="3" fill="#000"/>
<rect x="169.44" y="316.75" width="3" height="3" fill="#000"/>
<rect x="175.31" y="319.45" width="3" height="3" fill="#000"/>
<rect x="181.19" y="315.96" width="3" height="3" fill="#000"/>
<rect x="187.07" y="317.78" width="3" height="3" fill="#000"/>
<rect x="192.94" y="317.26" width="3" height="3" fill="#000"/>
<rect x="198.82" y="316.02" width="3" height="3" fill="#000"/>
<rect x="204.7" y="319.14" width="3" height="3" fill="#000"/>
<rect x="210.58" y="319.6" width="3" height="3" fill="#000"/>
<rect x="216.45" y="316.93" width="3" height="3" fill="#000"/>
<rect x="222.33" y="317.63" width="3" height="3" fill="#000"/>
<path d="M53.39 350.64L59.27 351.58L65.15 348.48L71.02 353.37L76.9 351.58L82.78 352.8L88.66 353.37L94.53 353.37L100.41 342.47L106.29 351.58L112.16 352.8L118.04 353.37L123.92 352.1L129.8 352.8L135.67 352.49L141.55 353.37L147.43 353.37L153.3 353.89L159.18 352.8L165.06 352.1L170.94 353.37L176.81 353.89L182.69 353.37L188.57 352.1L194.44 352.1L200.32 351L206.2 352.8L212.08 353.37L217.95 352.1L223.83 351.58" stroke="#999" stroke-width="0.7" fill="none" opacity="1.0"/>
<circle cx="53.39" cy="350.64" r="1.8" fill="#ff0000"/>
<circle cx="59.27" cy="351.58" r="1.8" fill="#ff0000"/>
<circle cx="65.15" cy="348.48" r="1.8" fill="#ff0000"/>
<circle cx="71.02" cy="353.37" r="1.8" fill="#ff0000"/>
<circle cx="76.9" cy="351.58" r="1.8" fill="#ff0000"/>
<circle cx="82.78" cy="352.8" r="1.8" fill="#ff0000"/>
<circle cx="88.66" cy="353.37" r="1.8" fill="#ff0000"/>
<circle cx="94.53" cy="353.37" r="1.8" fill="#ff0000"/>
<circle cx="100.41" cy="342.47" r="1.8" fill="#ff0000"/>
<circle cx="106.29" cy="351.58" r="1.8" fill="#ff0000"/>
<circle cx="112.16" cy="352.8" r="1.8" fill="#ff0000"/>
<circle cx="118.04" cy="353.37" r="1.8" fill="#ff0000"/>
<circle cx="123.92" cy="352.1" r="1.8" fill="#ff0000"/>
<circle cx="129.8" cy="352.8" r="1.8" fill="#ff0000"/>
<circle cx="135.67" cy="352.49" r="1.8" fill="#ff0000"/>
<circle cx="141.55" cy="353.37" r="1.8" fill="#ff0000"/>
<circle cx="147.43" cy="353.37" r="1.8" fill="#ff0000"/>
<circle cx="153.3" cy="353.89" r="1.8" fill="#ff0000"/>
<circle cx="159.18" cy="352.8" r="1.8" fill="#ff0000"/>
<circle cx="165.06" cy="352.1" r="1.8" fill="#ff0000"/>
<circle cx="170.94" cy="353.37" r="1.8" fill="#ff0000"/>
<circle cx="176.81" cy="353.89" r="1.8" fill="#ff0000"/>
<circle cx="182.69" cy="353.37" r="1.8" fill="#ff0000"/>
<circle cx="188.57" cy="352.1" r="1.8" fill="#ff0000"/>
<circle cx="194.44" cy="352.1" r="1.8" fill="#ff0000"/>
<circle cx="200.32" cy="351" r="1.8" fill="#ff0000"/>
<circle cx="206.2" cy="352.8" r="1.8" fill="#ff0000"/>
<circle cx="212.08" cy="353.37" r="1.8" fill="#ff0000"/>
<circle cx="217.95" cy="352.1" r="1.8" fill="#ff0000"/>
<circle cx="223.83" cy="351.58" r="1.8" fill="#ff0000"/>
<path d="M53.39 248.54L59.27 249.45L65.15 256.28L71.02 242.77L76.9 255.07L82.78 248.08L88.66 243.23L94.53 241.25L100.41 275.26L106.29 252.94L112.16 249.45L118.04 242.77L123.92 249.45L129.8 244.9L135.67 246.41L141.55 243.07L147.43 243.07L153.3 239.89L159.18 245.96L165.06 247.32L170.94 241.4L176.81 241.25L182.69 243.07L188.57 248.69L194.44 247.63L200.32 251.27L206.2 246.41L212.08 243.53L217.95 247.78L223.83 250.51" stroke="#1a1aff" stroke-width="0.9" fill="none" opacity="1.0"/>
<path d="M53.39 246.39L55.74 250.29L51.04 250.29Z" fill="#1a1aff"/>
<path d="M59.27 247.3L61.62 251.2L56.92 251.2Z" fill="#1a1aff"/>
<path d="M65.15 254.14L67.5 258.04L62.8 258.04Z" fill="#1a1aff"/>
<path d="M71.02 240.63L73.37 244.53L68.67 244.53Z" fill="#1a1aff"/>
<path d="M76.9 252.92L79.25 256.82L74.55 256.82Z" fill="#1a1aff"/>
<path d="M82.78 245.94L85.13 249.84L80.43 249.84Z" fill="#1a1aff"/>
<path d="M88.66 241.08L91.01 244.98L86.31 244.98Z" fill="#1a1aff"/>
<path d="M94.53 239.11L96.88 243.01L92.18 243.01Z" fill="#1a1aff"/>
<path d="M100.41 273.11L102.76 277.01L98.06 277.01Z" fill="#1a1aff"/>
<path d="M106.29 250.8L108.64 254.7L103.94 254.7Z" fill="#1a1aff"/>
<path d="M112.16 247.3L114.51 251.2L109.81 251.2Z" fill="#1a1aff"/>
<path d="M118.04 240.63L120.39 244.53L115.69 244.53Z" fill="#1a1aff"/>
<path d="M123.92 247.3L126.27 251.2L121.57 251.2Z" fill="#1a1aff"/>
<path d="M129.8 242.75L132.15 246.65L127.45 246.65Z" fill="#1a1aff"/>
<path d="M135.67 244.27L138.02 248.17L133.32 248.17Z" fill="#1a1aff"/>
<path d="M141.55 240.93L143.9 244.83L139.2 244.83Z" fill="#1a1aff"/>
<path d="M147.43 240.93L149.78 244.83L145.08 244.83Z" fill="#1a1aff"/>
<path d="M153.3 237.74L155.65 241.64L150.95 241.64Z" fill="#1a1aff"/>
<path d="M159.18 243.81L161.53 247.71L156.83 247.71Z" fill="#1a1aff"/>
<path d="M165.06 245.18L167.41 249.08L162.71 249.08Z" fill="#1a1aff"/>
<path d="M170.94 239.26L173.29 243.16L168.59 243.16Z" fill="#1a1aff"/>
<path d="M176.81 239.11L179.16 243.01L174.46 243.01Z" fill="#1a1aff"/>
<path d="M182.69 240.93L185.04 244.83L180.34 244.83Z" fill="#1a1aff"/>
<path d="M188.57 246.55L190.92 250.45L186.22 250.45Z" fill="#1a1aff"/>
<path d="M194.44 245.48L196.79 249.38L192.09 249.38Z" fill="#1a1aff"/>
<path d="M200.32 249.13L202.67 253.03L197.97 253.03Z" fill="#1a1aff"/>
<path d="M206.2 244.27L208.55 248.17L203.85 248.17Z" fill="#1a1aff"/>
<path d="M212.08 241.38L214.43 245.28L209.73 245.28Z" fill="#1a1aff"/>
<path d="M217.95 245.64L220.3 249.54L215.6 249.54Z" fill="#1a1aff"/>
<path d="M223.83 248.37L226.18 252.27L221.48 252.27Z" fill="#1a1aff"/>
<path d="M50.3 283.9H66.6" stroke="#888" stroke-width="0.8" opacity="0.7"/>
<rect x="57.1" y="282.3" width="3.2" height="3.2" fill="#000"/>
<text transform="translate(69.4 286.51) scale(0.86 1)" font-size="8.7" text-anchor="start" fill="#111" stroke="#111" stroke-width="0.18" font-family='"Liberation Sans", sans-serif' >Influent</text>
<path d="M50.3 293.1H66.6" stroke="#999" stroke-width="0.8" opacity="0.7"/>
<circle cx="58.7" cy="293.1" r="1.85" fill="#ff0000"/>
<text transform="translate(69.4 295.71) scale(0.86 1)" font-size="8.7" text-anchor="start" fill="#111" stroke="#111" stroke-width="0.18" font-family='"Liberation Sans", sans-serif' >Effluent</text>
<path d="M50.3 302H66.6" stroke="#1a1aff" stroke-width="0.8" opacity="1.0"/>
<path d="M58.7 300.02L60.8 303.62L56.6 303.62Z" fill="#1a1aff"/>
<text transform="translate(69.4 304.61) scale(0.86 1)" font-size="8.7" text-anchor="start" fill="#111" stroke="#111" stroke-width="0.18" font-family='"Liberation Sans", sans-serif' >Rejection</text>
<text x="57.6" y="224.4" font-size="8.1" text-anchor="middle" fill="#111" stroke="#111" stroke-width="0.1" font-family='"Liberation Sans", sans-serif' >(c)</text>
<text transform="translate(18.7 293.3) rotate(-90) scale(0.9 1)" font-size="10.8" text-anchor="middle" fill="#111" stroke="#111" stroke-width="0.25" font-family='"Liberation Sans", sans-serif'>COD<tspan font-size="9.4" dy="2.3">Mn</tspan><tspan dy="-2.3"> (mg/L)</tspan></text>
<text transform="translate(269.4 291.9) rotate(-90) scale(0.9 1)" x="0" y="0" font-size="10.4" text-anchor="middle" fill="#3535ff" stroke="#3535ff" stroke-width="0.08" font-family='"Liberation Sans", sans-serif'>Rejection (%)</text>
<text transform="translate(142.2 385.6) scale(0.91 1)" font-size="10" text-anchor="middle" fill="#111" stroke="#111" stroke-width="0.25" font-family='"Liberation Sans", sans-serif' >Time (d)</text>
<path d="M316.5 216.4H512.4M316.5 216.4V363.3H512.4" stroke="#2b2b2b" stroke-width="1.2" fill="none" stroke-linecap="square"/>
<path d="M512.4 216.4V363.3" stroke="#3535ff" stroke-width="1.2" fill="none" stroke-linecap="square"/>
<path d="M330.49 363.3v-3" stroke="#2b2b2b" stroke-width="1"/>
<text transform="translate(330.49 371.4) scale(0.84 1)" font-size="7.6" text-anchor="middle" fill="#111" stroke="#111" stroke-width="0.12" font-family='"Liberation Sans", sans-serif' >0</text>
<path d="M358.48 363.3v-3" stroke="#2b2b2b" stroke-width="1"/>
<text transform="translate(358.48 371.4) scale(0.84 1)" font-size="7.6" text-anchor="middle" fill="#111" stroke="#111" stroke-width="0.12" font-family='"Liberation Sans", sans-serif' >5</text>
<path d="M386.46 363.3v-3" stroke="#2b2b2b" stroke-width="1"/>
<text transform="translate(386.46 371.4) scale(0.84 1)" font-size="7.6" text-anchor="middle" fill="#111" stroke="#111" stroke-width="0.12" font-family='"Liberation Sans", sans-serif' >10</text>
<path d="M414.45 363.3v-3" stroke="#2b2b2b" stroke-width="1"/>
<text transform="translate(414.45 371.4) scale(0.84 1)" font-size="7.6" text-anchor="middle" fill="#111" stroke="#111" stroke-width="0.12" font-family='"Liberation Sans", sans-serif' >15</text>
<path d="M442.44 363.3v-3" stroke="#2b2b2b" stroke-width="1"/>
<text transform="translate(442.44 371.4) scale(0.84 1)" font-size="7.6" text-anchor="middle" fill="#111" stroke="#111" stroke-width="0.12" font-family='"Liberation Sans", sans-serif' >20</text>
<path d="M470.42 363.3v-3" stroke="#2b2b2b" stroke-width="1"/>
<text transform="translate(470.42 371.4) scale(0.84 1)" font-size="7.6" text-anchor="middle" fill="#111" stroke="#111" stroke-width="0.12" font-family='"Liberation Sans", sans-serif' >25</text>
<path d="M498.41 363.3v-3" stroke="#2b2b2b" stroke-width="1"/>
<text transform="translate(498.41 371.4) scale(0.84 1)" font-size="7.6" text-anchor="middle" fill="#111" stroke="#111" stroke-width="0.12" font-family='"Liberation Sans", sans-serif' >30</text>
<path d="M344.49 363.3v-2" stroke="#2b2b2b" stroke-width="1"/>
<path d="M372.47 363.3v-2" stroke="#2b2b2b" stroke-width="1"/>
<path d="M400.46 363.3v-2" stroke="#2b2b2b" stroke-width="1"/>
<path d="M428.44 363.3v-2" stroke="#2b2b2b" stroke-width="1"/>
<path d="M456.43 363.3v-2" stroke="#2b2b2b" stroke-width="1"/>
<path d="M484.41 363.3v-2" stroke="#2b2b2b" stroke-width="1"/>
<path d="M316.5 363.3h3" stroke="#2b2b2b" stroke-width="1"/>
<text transform="translate(313.7 365.3) scale(0.84 1)" font-size="7.6" text-anchor="end" fill="#111" stroke="#111" stroke-width="0.12" font-family='"Liberation Sans", sans-serif' >0</text>
<path d="M316.5 348.61h3" stroke="#2b2b2b" stroke-width="1"/>
<text transform="translate(313.7 350.61) scale(0.84 1)" font-size="7.6" text-anchor="end" fill="#111" stroke="#111" stroke-width="0.12" font-family='"Liberation Sans", sans-serif' >20</text>
<path d="M316.5 333.92h3" stroke="#2b2b2b" stroke-width="1"/>
<text transform="translate(313.7 335.92) scale(0.84 1)" font-size="7.6" text-anchor="end" fill="#111" stroke="#111" stroke-width="0.12" font-family='"Liberation Sans", sans-serif' >40</text>
<path d="M316.5 319.23h3" stroke="#2b2b2b" stroke-width="1"/>
<text transform="translate(313.7 321.23) scale(0.84 1)" font-size="7.6" text-anchor="end" fill="#111" stroke="#111" stroke-width="0.12" font-family='"Liberation Sans", sans-serif' >60</text>
<path d="M316.5 304.54h3" stroke="#2b2b2b" stroke-width="1"/>
<text transform="translate(313.7 306.54) scale(0.84 1)" font-size="7.6" text-anchor="end" fill="#111" stroke="#111" stroke-width="0.12" font-family='"Liberation Sans", sans-serif' >80</text>
<path d="M316.5 289.85h3" stroke="#2b2b2b" stroke-width="1"/>
<text transform="translate(313.7 291.85) scale(0.84 1)" font-size="7.6" text-anchor="end" fill="#111" stroke="#111" stroke-width="0.12" font-family='"Liberation Sans", sans-serif' >100</text>
<path d="M316.5 275.16h3" stroke="#2b2b2b" stroke-width="1"/>
<text transform="translate(313.7 277.16) scale(0.84 1)" font-size="7.6" text-anchor="end" fill="#111" stroke="#111" stroke-width="0.12" font-family='"Liberation Sans", sans-serif' >120</text>
<path d="M316.5 260.47h3" stroke="#2b2b2b" stroke-width="1"/>
<text transform="translate(313.7 262.47) scale(0.84 1)" font-size="7.6" text-anchor="end" fill="#111" stroke="#111" stroke-width="0.12" font-family='"Liberation Sans", sans-serif' >140</text>
<path d="M316.5 245.78h3" stroke="#2b2b2b" stroke-width="1"/>
<text transform="translate(313.7 247.78) scale(0.84 1)" font-size="7.6" text-anchor="end" fill="#111" stroke="#111" stroke-width="0.12" font-family='"Liberation Sans", sans-serif' >160</text>
<path d="M316.5 231.09h3" stroke="#2b2b2b" stroke-width="1"/>
<text transform="translate(313.7 233.09) scale(0.84 1)" font-size="7.6" text-anchor="end" fill="#111" stroke="#111" stroke-width="0.12" font-family='"Liberation Sans", sans-serif' >180</text>
<path d="M316.5 216.4h3" stroke="#2b2b2b" stroke-width="1"/>
<text transform="translate(313.7 218.4) scale(0.84 1)" font-size="7.6" text-anchor="end" fill="#111" stroke="#111" stroke-width="0.12" font-family='"Liberation Sans", sans-serif' >200</text>
<path d="M316.5 355.95h2" stroke="#2b2b2b" stroke-width="1"/>
<path d="M316.5 341.26h2" stroke="#2b2b2b" stroke-width="1"/>
<path d="M316.5 326.57h2" stroke="#2b2b2b" stroke-width="1"/>
<path d="M316.5 311.88h2" stroke="#2b2b2b" stroke-width="1"/>
<path d="M316.5 297.19h2" stroke="#2b2b2b" stroke-width="1"/>
<path d="M316.5 282.5h2" stroke="#2b2b2b" stroke-width="1"/>
<path d="M316.5 267.81h2" stroke="#2b2b2b" stroke-width="1"/>
<path d="M316.5 253.12h2" stroke="#2b2b2b" stroke-width="1"/>
<path d="M316.5 238.44h2" stroke="#2b2b2b" stroke-width="1"/>
<path d="M316.5 223.75h2" stroke="#2b2b2b" stroke-width="1"/>
<path d="M512.4 363.3h3" stroke="#3535ff" stroke-width="1"/>
<text transform="translate(517.7 365.1) scale(0.84 1)" font-size="7.6" text-anchor="start" fill="#3535ff" stroke="#3535ff" stroke-width="0.12" font-family='"Liberation Sans", sans-serif' >0</text>
<path d="M512.4 348.61h3" stroke="#3535ff" stroke-width="1"/>
<text transform="translate(517.7 350.41) scale(0.84 1)" font-size="7.6" text-anchor="start" fill="#3535ff" stroke="#3535ff" stroke-width="0.12" font-family='"Liberation Sans", sans-serif' >10</text>
<path d="M512.4 333.92h3" stroke="#3535ff" stroke-width="1"/>
<text transform="translate(517.7 335.72) scale(0.84 1)" font-size="7.6" text-anchor="start" fill="#3535ff" stroke="#3535ff" stroke-width="0.12" font-family='"Liberation Sans", sans-serif' >20</text>
<path d="M512.4 319.23h3" stroke="#3535ff" stroke-width="1"/>
<text transform="translate(517.7 321.03) scale(0.84 1)" font-size="7.6" text-anchor="start" fill="#3535ff" stroke="#3535ff" stroke-width="0.12" font-family='"Liberation Sans", sans-serif' >30</text>
<path d="M512.4 304.54h3" stroke="#3535ff" stroke-width="1"/>
<text transform="translate(517.7 306.34) scale(0.84 1)" font-size="7.6" text-anchor="start" fill="#3535ff" stroke="#3535ff" stroke-width="0.12" font-family='"Liberation Sans", sans-serif' >40</text>
<path d="M512.4 289.85h3" stroke="#3535ff" stroke-width="1"/>
<text transform="translate(517.7 291.65) scale(0.84 1)" font-size="7.6" text-anchor="start" fill="#3535ff" stroke="#3535ff" stroke-width="0.12" font-family='"Liberation Sans", sans-serif' >50</text>
<path d="M512.4 275.16h3" stroke="#3535ff" stroke-width="1"/>
<text transform="translate(517.7 276.96) scale(0.84 1)" font-size="7.6" text-anchor="start" fill="#3535ff" stroke="#3535ff" stroke-width="0.12" font-family='"Liberation Sans", sans-serif' >60</text>
<path d="M512.4 260.47h3" stroke="#3535ff" stroke-width="1"/>
<text transform="translate(517.7 262.27) scale(0.84 1)" font-size="7.6" text-anchor="start" fill="#3535ff" stroke="#3535ff" stroke-width="0.12" font-family='"Liberation Sans", sans-serif' >70</text>
<path d="M512.4 245.78h3" stroke="#3535ff" stroke-width="1"/>
<text transform="translate(517.7 247.58) scale(0.84 1)" font-size="7.6" text-anchor="start" fill="#3535ff" stroke="#3535ff" stroke-width="0.12" font-family='"Liberation Sans", sans-serif' >80</text>
<path d="M512.4 231.09h3" stroke="#3535ff" stroke-width="1"/>
<text transform="translate(517.7 232.89) scale(0.84 1)" font-size="7.6" text-anchor="start" fill="#3535ff" stroke="#3535ff" stroke-width="0.12" font-family='"Liberation Sans", sans-serif' >90</text>
<path d="M512.4 216.4h3" stroke="#3535ff" stroke-width="1"/>
<text transform="translate(517.7 218.2) scale(0.84 1)" font-size="7.6" text-anchor="start" fill="#3535ff" stroke="#3535ff" stroke-width="0.12" font-family='"Liberation Sans", sans-serif' >100</text>
<path d="M512.4 355.95h1.6" stroke="#3535ff" stroke-width="1"/>
<path d="M512.4 341.26h1.6" stroke="#3535ff" stroke-width="1"/>
<path d="M512.4 326.57h1.6" stroke="#3535ff" stroke-width="1"/>
<path d="M512.4 311.88h1.6" stroke="#3535ff" stroke-width="1"/>
<path d="M512.4 297.19h1.6" stroke="#3535ff" stroke-width="1"/>
<path d="M512.4 282.5h1.6" stroke="#3535ff" stroke-width="1"/>
<path d="M512.4 267.81h1.6" stroke="#3535ff" stroke-width="1"/>
<path d="M512.4 253.12h1.6" stroke="#3535ff" stroke-width="1"/>
<path d="M512.4 238.44h1.6" stroke="#3535ff" stroke-width="1"/>
<path d="M512.4 223.75h1.6" stroke="#3535ff" stroke-width="1"/>
<path d="M330.49 239.54L336.09 236.82L341.69 237.19L347.28 241.37L352.88 241.01L358.48 241.37L364.08 245.78L369.67 242.7L375.27 245.78L380.87 239.54L386.46 246.66L392.06 248.5L397.66 244.09L403.26 246.81L408.85 253.12L414.45 251.36L420.05 250.48L425.64 252.98L431.24 246.81L436.84 252.98L442.44 250.26L448.03 249.01L453.63 245.34L459.23 248.06L464.82 252.61L470.42 249.01L476.02 249.38L481.62 246.81L487.21 251.73L492.81 252.61" stroke="#555" stroke-width="0.7" fill="none" opacity="1.0"/>
<rect x="328.99" y="238.04" width="3" height="3" fill="#000"/>
<rect x="334.59" y="235.32" width="3" height="3" fill="#000"/>
<rect x="340.19" y="235.69" width="3" height="3" fill="#000"/>
<rect x="345.78" y="239.87" width="3" height="3" fill="#000"/>
<rect x="351.38" y="239.51" width="3" height="3" fill="#000"/>
<rect x="356.98" y="239.87" width="3" height="3" fill="#000"/>
<rect x="362.58" y="244.28" width="3" height="3" fill="#000"/>
<rect x="368.17" y="241.2" width="3" height="3" fill="#000"/>
<rect x="373.77" y="244.28" width="3" height="3" fill="#000"/>
<rect x="379.37" y="238.04" width="3" height="3" fill="#000"/>
<rect x="384.96" y="245.16" width="3" height="3" fill="#000"/>
<rect x="390.56" y="247" width="3" height="3" fill="#000"/>
<rect x="396.16" y="242.59" width="3" height="3" fill="#000"/>
<rect x="401.76" y="245.31" width="3" height="3" fill="#000"/>
<rect x="407.35" y="251.62" width="3" height="3" fill="#000"/>
<rect x="412.95" y="249.86" width="3" height="3" fill="#000"/>
<rect x="418.55" y="248.98" width="3" height="3" fill="#000"/>
<rect x="424.14" y="251.48" width="3" height="3" fill="#000"/>
<rect x="429.74" y="245.31" width="3" height="3" fill="#000"/>
<rect x="435.34" y="251.48" width="3" height="3" fill="#000"/>
<rect x="440.94" y="248.76" width="3" height="3" fill="#000"/>
<rect x="446.53" y="247.51" width="3" height="3" fill="#000"/>
<rect x="452.13" y="243.84" width="3" height="3" fill="#000"/>
<rect x="457.73" y="246.56" width="3" height="3" fill="#000"/>
<rect x="463.32" y="251.11" width="3" height="3" fill="#000"/>
<rect x="468.92" y="247.51" width="3" height="3" fill="#000"/>
<rect x="474.52" y="247.88" width="3" height="3" fill="#000"/>
<rect x="480.12" y="245.31" width="3" height="3" fill="#000"/>
<rect x="485.71" y="250.23" width="3" height="3" fill="#000"/>
<rect x="491.31" y="251.11" width="3" height="3" fill="#000"/>
<path d="M330.49 289.78L336.09 286.77L341.69 283.83L347.28 288.9L352.88 288.38L358.48 289.26L364.08 292.57L369.67 289.78L375.27 292.2L380.87 288.6L386.46 293.96L392.06 297.49L397.66 292.71L403.26 293.45L408.85 295.73L414.45 294.92L420.05 293.45L425.64 294.92L431.24 292.57L436.84 295.73L442.44 296.83L448.03 296.24L453.63 290.73L459.23 293.08L464.82 297.12L470.42 295.29L476.02 295.73L481.62 291.98L487.21 297.12L492.81 297.49" stroke="#ff4040" stroke-width="0.8" fill="none" opacity="1.0"/>
<circle cx="330.49" cy="289.78" r="1.9" fill="#ff0000"/>
<circle cx="336.09" cy="286.77" r="1.9" fill="#ff0000"/>
<circle cx="341.69" cy="283.83" r="1.9" fill="#ff0000"/>
<circle cx="347.28" cy="288.9" r="1.9" fill="#ff0000"/>
<circle cx="352.88" cy="288.38" r="1.9" fill="#ff0000"/>
<circle cx="358.48" cy="289.26" r="1.9" fill="#ff0000"/>
<circle cx="364.08" cy="292.57" r="1.9" fill="#ff0000"/>
<circle cx="369.67" cy="289.78" r="1.9" fill="#ff0000"/>
<circle cx="375.27" cy="292.2" r="1.9" fill="#ff0000"/>
<circle cx="380.87" cy="288.6" r="1.9" fill="#ff0000"/>
<circle cx="386.46" cy="293.96" r="1.9" fill="#ff0000"/>
<circle cx="392.06" cy="297.49" r="1.9" fill="#ff0000"/>
<circle cx="397.66" cy="292.71" r="1.9" fill="#ff0000"/>
<circle cx="403.26" cy="293.45" r="1.9" fill="#ff0000"/>
<circle cx="408.85" cy="295.73" r="1.9" fill="#ff0000"/>
<circle cx="414.45" cy="294.92" r="1.9" fill="#ff0000"/>
<circle cx="420.05" cy="293.45" r="1.9" fill="#ff0000"/>
<circle cx="425.64" cy="294.92" r="1.9" fill="#ff0000"/>
<circle cx="431.24" cy="292.57" r="1.9" fill="#ff0000"/>
<circle cx="436.84" cy="295.73" r="1.9" fill="#ff0000"/>
<circle cx="442.44" cy="296.83" r="1.9" fill="#ff0000"/>
<circle cx="448.03" cy="296.24" r="1.9" fill="#ff0000"/>
<circle cx="453.63" cy="290.73" r="1.9" fill="#ff0000"/>
<circle cx="459.23" cy="293.08" r="1.9" fill="#ff0000"/>
<circle cx="464.82" cy="297.12" r="1.9" fill="#ff0000"/>
<circle cx="470.42" cy="295.29" r="1.9" fill="#ff0000"/>
<circle cx="476.02" cy="295.73" r="1.9" fill="#ff0000"/>
<circle cx="481.62" cy="291.98" r="1.9" fill="#ff0000"/>
<circle cx="487.21" cy="297.12" r="1.9" fill="#ff0000"/>
<circle cx="492.81" cy="297.49" r="1.9" fill="#ff0000"/>
<path d="M330.49 303.81L336.09 304.69L341.69 308.36L347.28 305.27L352.88 306.16L358.48 305.27L364.08 304.39L369.67 305.27L375.27 304.83L380.87 304.83L386.46 302.92L392.06 301.01L397.66 303.51L403.26 304.39L408.85 306.16L414.45 305.72L420.05 306.74L425.64 307.48L431.24 305.72L436.84 306.6L442.44 303.07L448.03 302.92L453.63 307.04L459.23 305.72L464.82 303.95L470.42 303.95L476.02 303.95L481.62 306.6L487.21 303.51L492.81 303.95" stroke="#1a1aff" stroke-width="0.9" fill="none" opacity="1.0"/>
<path d="M330.49 301.66L332.84 305.56L328.14 305.56Z" fill="#1a1aff"/>
<path d="M336.09 302.54L338.44 306.44L333.74 306.44Z" fill="#1a1aff"/>
<path d="M341.69 306.21L344.04 310.11L339.34 310.11Z" fill="#1a1aff"/>
<path d="M347.28 303.13L349.63 307.03L344.93 307.03Z" fill="#1a1aff"/>
<path d="M352.88 304.01L355.23 307.91L350.53 307.91Z" fill="#1a1aff"/>
<path d="M358.48 303.13L360.83 307.03L356.13 307.03Z" fill="#1a1aff"/>
<path d="M364.08 302.25L366.43 306.15L361.73 306.15Z" fill="#1a1aff"/>
<path d="M369.67 303.13L372.02 307.03L367.32 307.03Z" fill="#1a1aff"/>
<path d="M375.27 302.69L377.62 306.59L372.92 306.59Z" fill="#1a1aff"/>
<path d="M380.87 302.69L383.22 306.59L378.52 306.59Z" fill="#1a1aff"/>
<path d="M386.46 300.78L388.81 304.68L384.11 304.68Z" fill="#1a1aff"/>
<path d="M392.06 298.87L394.41 302.77L389.71 302.77Z" fill="#1a1aff"/>
<path d="M397.66 301.37L400.01 305.27L395.31 305.27Z" fill="#1a1aff"/>
<path d="M403.26 302.25L405.61 306.15L400.91 306.15Z" fill="#1a1aff"/>
<path d="M408.85 304.01L411.2 307.91L406.5 307.91Z" fill="#1a1aff"/>
<path d="M414.45 303.57L416.8 307.47L412.1 307.47Z" fill="#1a1aff"/>
<path d="M420.05 304.6L422.4 308.5L417.7 308.5Z" fill="#1a1aff"/>
<path d="M425.64 305.33L427.99 309.23L423.29 309.23Z" fill="#1a1aff"/>
<path d="M431.24 303.57L433.59 307.47L428.89 307.47Z" fill="#1a1aff"/>
<path d="M436.84 304.45L439.19 308.35L434.49 308.35Z" fill="#1a1aff"/>
<path d="M442.44 300.93L444.79 304.83L440.09 304.83Z" fill="#1a1aff"/>
<path d="M448.03 300.78L450.38 304.68L445.68 304.68Z" fill="#1a1aff"/>
<path d="M453.63 304.89L455.98 308.79L451.28 308.79Z" fill="#1a1aff"/>
<path d="M459.23 303.57L461.58 307.47L456.88 307.47Z" fill="#1a1aff"/>
<path d="M464.82 301.81L467.17 305.71L462.47 305.71Z" fill="#1a1aff"/>
<path d="M470.42 301.81L472.77 305.71L468.07 305.71Z" fill="#1a1aff"/>
<path d="M476.02 301.81L478.37 305.71L473.67 305.71Z" fill="#1a1aff"/>
<path d="M481.62 304.45L483.97 308.35L479.27 308.35Z" fill="#1a1aff"/>
<path d="M487.21 301.37L489.56 305.27L484.86 305.27Z" fill="#1a1aff"/>
<path d="M492.81 301.81L495.16 305.71L490.46 305.71Z" fill="#1a1aff"/>
<path d="M332 325.2H347.9" stroke="#555" stroke-width="0.8" opacity="0.7"/>
<rect x="338.4" y="323.6" width="3.2" height="3.2" fill="#000"/>
<text transform="translate(349.8 327.81) scale(0.86 1)" font-size="8.7" text-anchor="start" fill="#111" stroke="#111" stroke-width="0.18" font-family='"Liberation Sans", sans-serif' >Influent</text>
<path d="M332 334.3H347.9" stroke="#ff4040" stroke-width="0.8" opacity="0.7"/>
<circle cx="340" cy="334.3" r="1.85" fill="#ff0000"/>
<text transform="translate(349.8 336.91) scale(0.86 1)" font-size="8.7" text-anchor="start" fill="#111" stroke="#111" stroke-width="0.18" font-family='"Liberation Sans", sans-serif' >Effluent</text>
<path d="M332 343.4H347.9" stroke="#1a1aff" stroke-width="0.8" opacity="1.0"/>
<path d="M340 341.42L342.1 345.02L337.9 345.02Z" fill="#1a1aff"/>
<text transform="translate(349.8 346.01) scale(0.86 1)" font-size="8.7" text-anchor="start" fill="#111" stroke="#111" stroke-width="0.18" font-family='"Liberation Sans", sans-serif' >Rejection</text>
<text x="332" y="228.7" font-size="7.2" text-anchor="middle" fill="#333" stroke="#333" stroke-width="0.1" font-family='"Liberation Serif", serif' >(d)</text>
<text transform="translate(296.2 295.3) rotate(-90) scale(1.0 1)" x="0" y="0" font-size="9.0" text-anchor="middle" fill="#111" stroke="#111" stroke-width="0.25" font-family='"Liberation Sans", sans-serif'>Hardness (mg/L)</text>
<text transform="translate(537 294.2) rotate(-90) scale(0.89 1)" x="0" y="0" font-size="10.4" text-anchor="middle" fill="#3535ff" stroke="#3535ff" stroke-width="0.08" font-family='"Liberation Sans", sans-serif'>Rejection (%)</text>
<text transform="translate(414.7 385.2) scale(0.91 1)" font-size="10" text-anchor="middle" fill="#111" stroke="#111" stroke-width="0.25" font-family='"Liberation Sans", sans-serif' >Time (d)</text>
</svg></body></html>
